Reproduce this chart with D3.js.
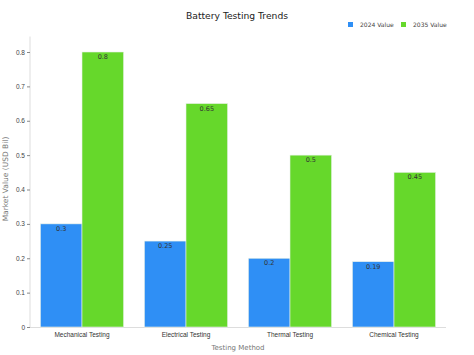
<!DOCTYPE html>
<html><head><meta charset="utf-8">
<script src="https://cdn.jsdelivr.net/npm/d3@7"></script>
<style>body{margin:0;background:#fff;}svg{display:block;font-family:"DejaVu Sans",sans-serif;}</style>
</head><body>
<script>
const categories = ["Mechanical Testing","Electrical Testing","Thermal Testing","Chemical Testing"];
const seriesNames = ["2024 Value","2035 Value"];
const values2024 = [0.3,0.25,0.2,0.19];
const values2035 = [0.8,0.65,0.5,0.45];
const yTicks = [0,0.1,0.2,0.3,0.4,0.5,0.6,0.7,0.8];
const colors = ["#2f8ff5","#66d82b"];

const W=474,H=355;
const svg=d3.select("body").append("svg").attr("width",W).attr("height",H);
const x=d3.scaleBand().domain(categories).range([30,446]).paddingInner(0.2).paddingOuter(0.1);
const xs=d3.scaleBand().domain(seriesNames).range([0,x.bandwidth()]);
const y=d3.scaleLinear().domain([0,0.8]).range([327,52]);
const yTop=y(0.845);

svg.append("line").attr("x1",30).attr("x2",30).attr("y1",yTop).attr("y2",327).attr("stroke","#dddddd").attr("stroke-width",1);
svg.append("line").attr("x1",30).attr("x2",446).attr("y1",327.5).attr("y2",327.5).attr("stroke","#dddddd").attr("stroke-width",1);

const yAxis=svg.append("g").attr("transform","translate(30,0)").call(d3.axisLeft(y).tickValues(yTicks).tickSize(3).tickFormat(d=>d===0?"0":d3.format(".1f")(d)));
yAxis.select(".domain").remove();
yAxis.selectAll("line").attr("stroke","#888");
yAxis.selectAll("text").attr("fill","#444").attr("font-size",6.5).attr("x",-5);

const xAxis=svg.append("g").attr("transform","translate(0,327)").call(d3.axisBottom(x).tickSize(0));
xAxis.select(".domain").remove();
xAxis.selectAll("text").attr("fill","#333").attr("font-size",6.5).attr("dy","1.1em");

const data=[values2024,values2035];
seriesNames.forEach((s,si)=>{
  const g=svg.append("g");
  g.selectAll("rect").data(categories).join("rect")
    .attr("x",c=>x(c)+xs(s)).attr("width",xs.bandwidth())
    .attr("y",(c,i)=>y(data[si][i])).attr("height",(c,i)=>327-y(data[si][i]))
    .attr("fill",colors[si]).attr("stroke","#e8f0e8").attr("stroke-width",0.6);
  g.selectAll("text").data(categories).join("text")
    .attr("x",c=>x(c)+xs(s)+xs.bandwidth()/2).attr("y",(c,i)=>y(data[si][i])+7)
    .attr("text-anchor","middle").attr("font-size",6.5).attr("fill","#333")
    .text((c,i)=>data[si][i]);
});

svg.append("text").attr("x",237).attr("y",19).attr("text-anchor","middle").attr("font-size",9.2).attr("fill","#222").text("Battery Testing Trends");
svg.append("text").attr("x",238).attr("y",350).attr("text-anchor","middle").attr("font-size",7).attr("fill","#777").text("Testing Method");
svg.append("text").attr("transform","translate(8,179) rotate(-90)").attr("text-anchor","middle").attr("font-size",7.5).attr("fill","#777").text("Market Value (USD Bil)");

const leg=svg.append("g");
const legX=[348,401];
seriesNames.forEach((s,i)=>{
  leg.append("rect").attr("x",legX[i]).attr("y",22).attr("width",5).attr("height",5).attr("fill",colors[i]);
  leg.append("text").attr("x",legX[i]+12).attr("y",27).attr("font-size",6).attr("fill","#444").text(s);
});
</script>
</body></html>
